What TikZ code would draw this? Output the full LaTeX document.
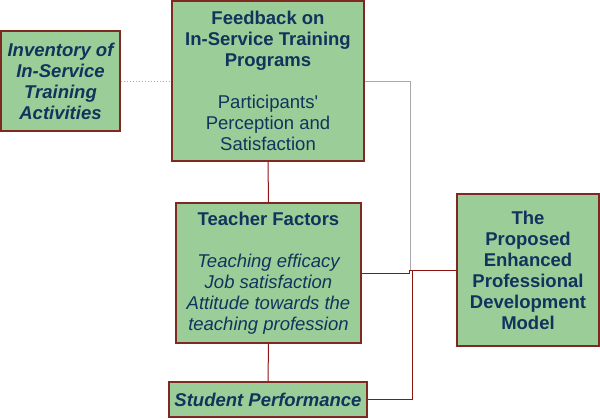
\documentclass[tikz,border=0pt]{standalone}
\usepackage{fontspec}
\setmainfont{Liberation Sans}
\usetikzlibrary{arrows.meta}
\definecolor{boxgreen}{HTML}{9BCD99}
\definecolor{boxedge}{HTML}{7E2A22}
\definecolor{txtblue}{HTML}{12335C}
\definecolor{linkred}{HTML}{8E1414}
\definecolor{linkgray}{HTML}{A8A8A8}

\begin{document}
\begin{tikzpicture}[x=1pt,y=-1pt,
    factor/.style={draw=boxedge,line width=1.1pt,fill=boxgreen,text=txtblue,
      align=center,inner sep=0pt,font=\fontsize{18.5}{21}\selectfont},
    link/.style={draw=linkred,line width=1pt},
    greylink/.style={draw=linkgray,line width=1pt}]
  \useasboundingbox (0,0) rectangle (600,418);
  % boxes
  \node[factor,minimum width=119pt,minimum height=100pt] (inv) at (60.5,81)
    {\bfseries\itshape Inventory of\\\bfseries\itshape In-Service\\\bfseries\itshape Training\\\bfseries\itshape Activities};
  \node[factor,minimum width=192pt,minimum height=160pt] (fb) at (268,81)
    {\bfseries Feedback on\\\bfseries In-Service Training\\\bfseries Programs\\[21pt]
     Participants\textquotesingle\\Perception and\\Satisfaction};
  \node[factor,minimum width=185pt,minimum height=140pt] (tf) at (268.5,273)
    {\bfseries Teacher Factors\\[21pt]
     \itshape Teaching efficacy\\\itshape Job satisfaction\\\itshape Attitude towards the\\\itshape teaching profession};
  \node[factor,minimum width=198pt,minimum height=35pt] (sp) at (268,399.5)
    {\bfseries\itshape Student Performance};
  \node[factor,minimum width=142pt,minimum height=152pt] (pdm) at (528,270)
    {\bfseries The\\\bfseries Proposed\\\bfseries Enhanced\\\bfseries Professional\\\bfseries Development\\\bfseries Model};
  % joints
  \coordinate (jg) at (410.3,270.7);
  \coordinate (jt) at (409.3,270.5);
  \coordinate (js) at (412.5,270.5);
  % links
  \draw[greylink,dotted] (inv.east) -- (fb.west);
  \draw[greylink] (fb.east) -| (jg);
  \draw[link] (fb.south) -- (tf.north) (tf.south) -- (sp.north);
  \draw[link] (tf.east) -| (jt) -- (jt -| pdm.west);
  \draw[link] (sp.east) -| (js);
\end{tikzpicture}
\end{document}
